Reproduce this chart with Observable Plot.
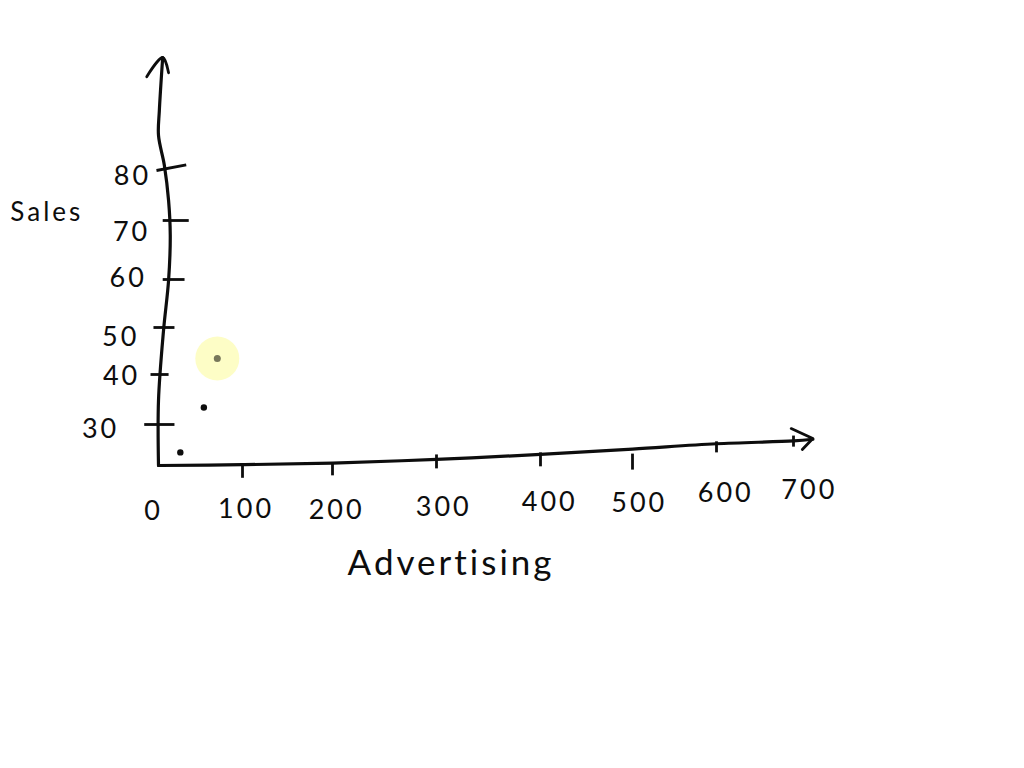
<!DOCTYPE html>
<html>
<head>
<meta charset="utf-8">
<style>html,body{margin:0;padding:0;background:#fff}svg{display:block}</style>
<script src="https://cdn.jsdelivr.net/npm/d3@7"></script>
<script src="https://cdn.jsdelivr.net/npm/@observablehq/plot@0.6"></script>
</head>
<body>
<div id="chart"></div>
<script>
// Sketched scale positions: the hand-drawn ticks are unevenly spaced
const xScaleValues = [0, 100, 200, 300, 400, 500, 600, 700, 725];
const yScaleValues = [20, 30, 40, 50, 60, 70, 80, 100];

// Plotted points
const pointX = [26, 54];
const pointY = [23.2, 33.4];
const cursorX = [70];
const cursorY = [43.4];

// Hand-drawn axes, in data units
const yAxisX = [5, 1, 0, 7, 12, 14, 12, 6, 0, 0];
const yAxisY = [100, 90.6, 86.2, 80.9, 74, 67.5, 59.8, 49.4, 34.8, 20];
const xAxisX = [0, 100, 200, 300, 400, 500, 600, 700, 722];
const xAxisY = [20, 20.2, 20.6, 21.5, 22.7, 24, 25.3, 26, 26.4];
const yArrowX = [-14, 5, 12];
const yArrowY = [96.6, 100, 97.3];
const xArrowX = [697, 722, 710];
const xArrowY = [29, 26.6, 23.9];

// Ticks
const yTickValues = [80, 70, 60, 50, 40, 30];
const yTickStart = [-2.4, 5, 5, -6, -9.5, -17];
const yTickEnd = [33, 36, 31, 19, 12, 19];
const yTickRise = [81, 70, 60, 50, 40, 30];
const xTickValues = [100, 200, 300, 400, 500, 600, 700];
const xTickTop = [20, 20.5, 22.7, 23.2, 22.9, 25.9, 27.3];
const xTickBottom = [17, 17.6, 19.3, 19.8, 19, 23.2, 24.6];

// Tick labels and where they were written
const yLabels = ["80", "70", "60", "50", "40", "30"];
const yLabelX = [-31, -32, -36, -45, -44, -69];
const yLabelY = [78.8, 68, 60.2, 48, 39.6, 28.8];
const xLabels = ["0", "100", "200", "300", "400", "500", "600", "700"];
const xLabelX = [-6, 104, 204, 307, 410, 508, 612, 718];
const xLabelY = [8.8, 9.3, 9, 9.8, 11, 10.7, 13.2, 13.9];

const INK = "#0d0d0d";
const FONT = "Lato, 'Open Sans', sans-serif";

const chart = Plot.plot({
  width: 1024,
  height: 768,
  margin: 0,
  style: {background: "#fff", fontFamily: FONT, letterSpacing: "3px"},
  x: {type: "linear", axis: null, domain: xScaleValues, range: [158, 242, 332, 436, 540, 632, 716, 793, 815]},
  y: {type: "linear", axis: null, domain: yScaleValues, range: [465, 424, 374, 327, 279, 220, 170, 57]},
  marks: [
    Plot.dot(cursorX, {x: cursorX, y: cursorY, r: 22, fill: "#fdfdc6", stroke: "none"}),
    Plot.line(yAxisX, {x: yAxisX, y: yAxisY, curve: "catmull-rom", stroke: INK, strokeWidth: 3.2}),
    Plot.line(xAxisX, {x: xAxisX, y: xAxisY, curve: "catmull-rom", stroke: INK, strokeWidth: 3.2}),
    Plot.line(yArrowX, {x: yArrowX, y: yArrowY, curve: "catmull-rom", stroke: INK, strokeWidth: 2.8}),
    Plot.line(xArrowX, {x: xArrowX, y: xArrowY, stroke: INK, strokeWidth: 2.8}),
    Plot.link(yTickValues, {x1: yTickStart, x2: yTickEnd, y1: yTickValues, y2: yTickRise, stroke: INK, strokeWidth: 2.8}),
    Plot.link(xTickValues, {x1: xTickValues, x2: xTickValues, y1: xTickTop, y2: xTickBottom, stroke: INK, strokeWidth: 2.8}),
    Plot.dot(pointX, {x: pointX, y: pointY, r: 3.2, fill: INK, stroke: "none"}),
    Plot.dot(cursorX, {x: cursorX, y: cursorY, r: 3.5, fill: "#77775a", stroke: "none"}),
    Plot.text(yLabels, {x: yLabelX, y: yLabelY, text: yLabels, fontSize: 27, fill: INK}),
    Plot.text(xLabels, {x: xLabelX, y: xLabelY, text: xLabels, fontSize: 27, fill: INK}),
    Plot.text(["Sales"], {x: [-133], y: [71.5], text: ["Sales"], fontSize: 26, fill: INK}),
    Plot.text(["Advertising"], {x: [314], y: [-4], text: ["Advertising"], fontSize: 35, fill: INK})
  ]
});
document.getElementById("chart").append(chart);
</script>
</body>
</html>
